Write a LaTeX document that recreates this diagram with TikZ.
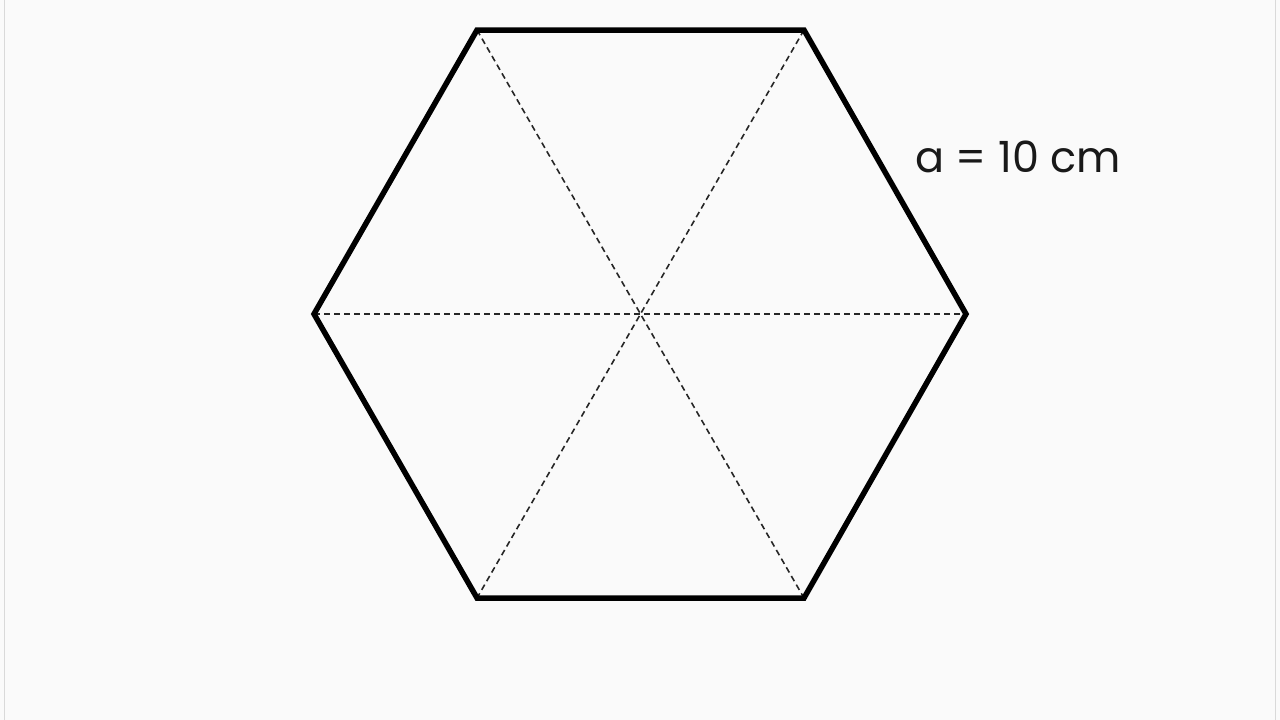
\documentclass[tikz,border=0pt]{standalone}
\usepackage{fontspec}
\setmainfont{Poppins}
\begin{document}
\begin{tikzpicture}[x=1pt,y=-1pt,
  hexedge/.style={line width=5.5pt,line join=miter,black},
  diag/.style={line width=1.6pt,dash pattern=on 6pt off 4pt,black!85},
  lbl/.style={font=\fontsize{43}{47}\selectfont,text=black!90,inner sep=0pt}]
\fill[white!98!black] (0,0) rectangle (1280,720);
\useasboundingbox (0,0) rectangle (1280,720);
\draw[black!15,line width=1.2pt] (4.5,0) -- (4.5,720);
\draw[black!15,line width=1.2pt] (1275.5,0) -- (1275.5,720);
\coordinate (O) at (640,314);
\coordinate (A) at (477,30);
\coordinate (B) at (804,30);
\coordinate (C) at (966,314);
\coordinate (D) at (804,598);
\coordinate (E) at (477,598);
\coordinate (F) at (314,314);
\draw[diag] (A) -- (D);
\draw[diag] (B) -- (E);
\draw[diag] (F) -- (C);
\draw[hexedge] (A) -- (B) -- (C) -- (D) -- (E) -- (F) -- cycle;
\node[lbl] (a) at (1018,157) {a = 10 cm};
\end{tikzpicture}
\end{document}
